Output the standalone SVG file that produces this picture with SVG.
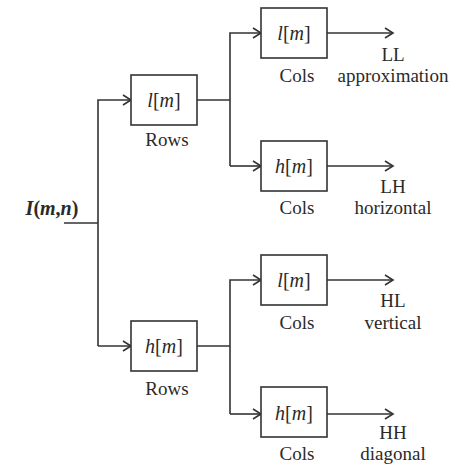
<svg xmlns="http://www.w3.org/2000/svg" width="474" height="474" viewBox="0 0 474 474">
<style>
.box{fill:#fff;stroke:#333;stroke-width:1.6}
.ln{fill:none;stroke:#333;stroke-width:1.6}
.t{font-family:"Liberation Serif",serif;font-size:19px;fill:#2a2a2a;text-anchor:middle}
.b{font-size:20px}
.i{font-style:italic}
</style>
<defs>
<marker id="ah" markerWidth="12" markerHeight="12" refX="10" refY="6" orient="auto" markerUnits="userSpaceOnUse">
<path d="M2,1 L10,6 L2,11" fill="none" stroke="#333" stroke-width="1.6"/>
</marker>
</defs>
<g id="connectors">
<path class="ln" d="M64,223 H98"/>
<path class="ln" d="M98,346 V100 H131" marker-end="url(#ah)"/>
<path class="ln" d="M98,346 H131" marker-end="url(#ah)"/>
<path class="ln" d="M197,100 H230"/>
<path class="ln" d="M230,166 V33 H261" marker-end="url(#ah)"/>
<path class="ln" d="M230,166 H261" marker-end="url(#ah)"/>
<path class="ln" d="M197,346 H230"/>
<path class="ln" d="M230,414 V280 H261" marker-end="url(#ah)"/>
<path class="ln" d="M230,414 H261" marker-end="url(#ah)"/>
<path class="ln" d="M327,33 H393" marker-end="url(#ah)"/>
<path class="ln" d="M327,166 H393" marker-end="url(#ah)"/>
<path class="ln" d="M327,280 H393" marker-end="url(#ah)"/>
<path class="ln" d="M327,414 H393" marker-end="url(#ah)"/>
</g>
<g id="input">
<text x="52" y="215" class="t" style="font-size:20px;font-weight:bold"><tspan class="i">I</tspan>(<tspan class="i">m</tspan>,<tspan class="i">n</tspan>)</text>
</g>
<g id="rows-l">
<rect class="box" x="131" y="75" width="66" height="50"/>
<text x="164" y="107" class="t b"><tspan class="i">l</tspan>[<tspan class="i">m</tspan>]</text>
<text x="167" y="146" class="t">Rows</text>
</g>
<g id="rows-h">
<rect class="box" x="131" y="321" width="66" height="50"/>
<text x="164" y="353" class="t b"><tspan class="i">h</tspan>[<tspan class="i">m</tspan>]</text>
<text x="167" y="395" class="t">Rows</text>
</g>
<g id="cols-ll">
<rect class="box" x="261" y="8" width="66" height="50"/>
<text x="294" y="40" class="t b"><tspan class="i">l</tspan>[<tspan class="i">m</tspan>]</text>
<text x="297" y="82" class="t">Cols</text>
<text x="393" y="61" class="t">LL</text>
<text x="393" y="82" class="t">approximation</text>
</g>
<g id="cols-lh">
<rect class="box" x="261" y="141" width="66" height="50"/>
<text x="294" y="173" class="t b"><tspan class="i">h</tspan>[<tspan class="i">m</tspan>]</text>
<text x="297" y="214" class="t">Cols</text>
<text x="393" y="193" class="t">LH</text>
<text x="393" y="214" class="t">horizontal</text>
</g>
<g id="cols-hl">
<rect class="box" x="261" y="255" width="66" height="50"/>
<text x="294" y="287" class="t b"><tspan class="i">l</tspan>[<tspan class="i">m</tspan>]</text>
<text x="297" y="329" class="t">Cols</text>
<text x="393" y="307" class="t">HL</text>
<text x="393" y="329" class="t">vertical</text>
</g>
<g id="cols-hh">
<rect class="box" x="261" y="387" width="66" height="50"/>
<text x="294" y="420" class="t b"><tspan class="i">h</tspan>[<tspan class="i">m</tspan>]</text>
<text x="297" y="460" class="t">Cols</text>
<text x="393" y="439" class="t">HH</text>
<text x="393" y="460" class="t">diagonal</text>
</g>
</svg>
